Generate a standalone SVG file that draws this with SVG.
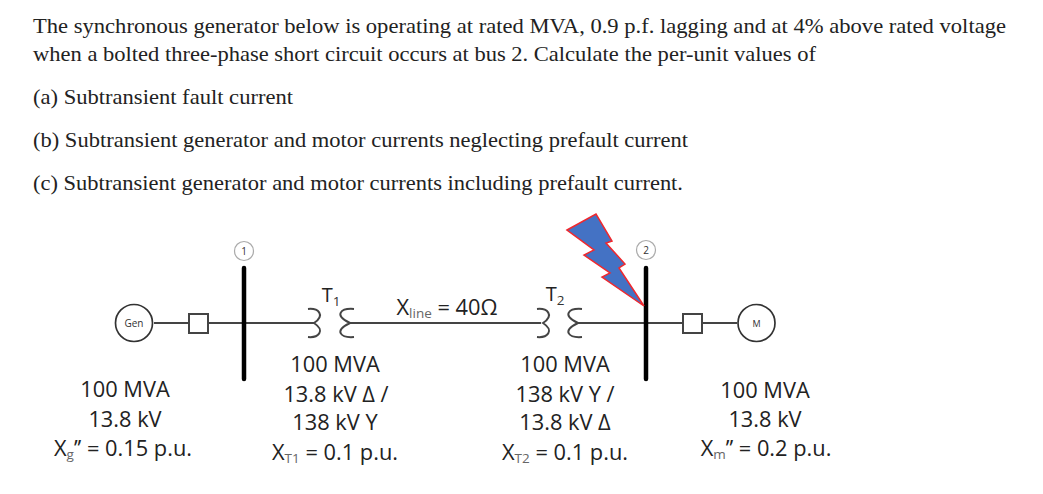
<svg xmlns="http://www.w3.org/2000/svg" width="1043" height="494" viewBox="0 0 1043 494">
<style>
text{fill:#222}
.q{font-family:"Liberation Serif",serif;font-size:20.6px}
.d{font-family:"Open Sans","Noto Sans",sans-serif;font-size:21.8px;text-anchor:middle}
.sub{font-size:13.5px;fill:#666}
.w{fill:none;stroke:#444;stroke-width:2}
.bus{stroke:#000;stroke-width:4.500;stroke-linecap:round}
.box{fill:#fff;stroke:#444;stroke-width:2}
.m{fill:#fff;stroke:#333;stroke-width:1.7}
.n{fill:#fff;stroke:#aaa;stroke-width:1.2}
.s{font-family:"Open Sans",sans-serif;font-size:10px;text-anchor:middle;fill:#333}
.t{font-family:"Open Sans",sans-serif;font-size:10px;text-anchor:middle;fill:#333}
</style>
<rect width="1043" height="494" fill="#fff"/>
<g id="question">
<text class="q" x="33" y="33" textLength="973" lengthAdjust="spacingAndGlyphs">The synchronous generator below is operating at rated MVA, 0.9 p.f. lagging and at 4% above rated voltage</text>
<text class="q" x="33" y="61" textLength="783" lengthAdjust="spacingAndGlyphs">when a bolted three-phase short circuit occurs at bus 2. Calculate the per-unit values of</text>
<text class="q" x="33" y="104" textLength="260" lengthAdjust="spacingAndGlyphs">(a) Subtransient fault current</text>
<text class="q" x="33" y="147" textLength="655" lengthAdjust="spacingAndGlyphs">(b) Subtransient generator and motor currents neglecting prefault current</text>
<text class="q" x="33" y="190" textLength="650" lengthAdjust="spacingAndGlyphs">(c) Subtransient generator and motor currents including prefault current.</text>
</g>
<g id="connectors">
<path class="w" d="M154 323H314M350 323H541M578 323H737"/>
<path class="w" d="M308 309C318 308 326 315 314 323C326 331 318 338 308 337"/>
<path class="w" d="M354 309C341 308 333 315 350 323C333 331 341 338 354 337"/>
<path class="w" d="M537 309C547 308 555 315 543 323C555 331 547 338 537 337"/>
<path class="w" d="M582 309C569 308 561 315 578 323C561 331 569 338 582 337"/>
</g>
<g id="gen"><circle class="m" cx="134" cy="323" r="18.500"/><text class="t" x="134" y="326.500">Gen</text></g>
<g id="breaker1"><rect class="box" x="189" y="314" width="19" height="19"/></g>
<g id="bus1"><line class="bus" x1="244" y1="268" x2="244" y2="379"/><circle class="n" cx="244" cy="251" r="9.500"/><text class="s" x="244" y="254.500">1</text></g>
<g id="breaker2"><rect class="box" x="683" y="314" width="19" height="19"/></g>
<g id="bus2"><line class="bus" x1="646" y1="268" x2="646" y2="379"/><circle class="n" cx="646" cy="250" r="9.500"/><text class="s" x="646" y="253.500">2</text></g>
<g id="motor"><circle class="m" cx="756.500" cy="323" r="18.500"/><text class="t" x="756.500" y="326.500" style="font-size:9px">M</text></g>
<g id="fault"><path d="M567 230L596 214L612 241L606 243L625 264L619 268L644 306L602 277L610 273L584 255L594 250Z" fill="#4472c4" stroke="#f0282d" stroke-width="1.500"/></g>
<g id="labels">
<text class="d" x="331" y="302" style="font-size:20px">T<tspan class="sub" dy="4" style="fill:#333">1</tspan></text>
<text class="d" x="555" y="301" style="font-size:20px">T<tspan class="sub" dy="4" style="fill:#333">2</tspan></text>
<text class="d" x="447" y="315">X<tspan class="sub" dy="3">line</tspan><tspan dy="-3"> = 40Ω</tspan></text>
<text class="d" x="335" y="372">100 MVA</text>
<text class="d" x="336" y="402">13.8 kV Δ /</text>
<text class="d" x="335" y="430">138 kV Y</text>
<text class="d" x="335" y="460">X<tspan class="sub" dy="3">T1</tspan><tspan dy="-3"> = 0.1 p.u.</tspan></text>
<text class="d" x="565" y="372">100 MVA</text>
<text class="d" x="565" y="402">138 kV Y /</text>
<text class="d" x="565" y="430">13.8 kV Δ</text>
<text class="d" x="565" y="460">X<tspan class="sub" dy="3">T2</tspan><tspan dy="-3"> = 0.1 p.u.</tspan></text>
<text class="d" x="125" y="397">100 MVA</text>
<text class="d" x="125" y="427">13.8 kV</text>
<text class="d" x="123" y="456">X<tspan class="sub" dy="3">g</tspan><tspan dy="-3">’’ = 0.15 p.u.</tspan></text>
<text class="d" x="765" y="398">100 MVA</text>
<text class="d" x="765" y="427">13.8 kV</text>
<text class="d" x="766" y="456">X<tspan class="sub" dy="3">m</tspan><tspan dy="-3">’’ = 0.2 p.u.</tspan></text>
</g>
</svg>
